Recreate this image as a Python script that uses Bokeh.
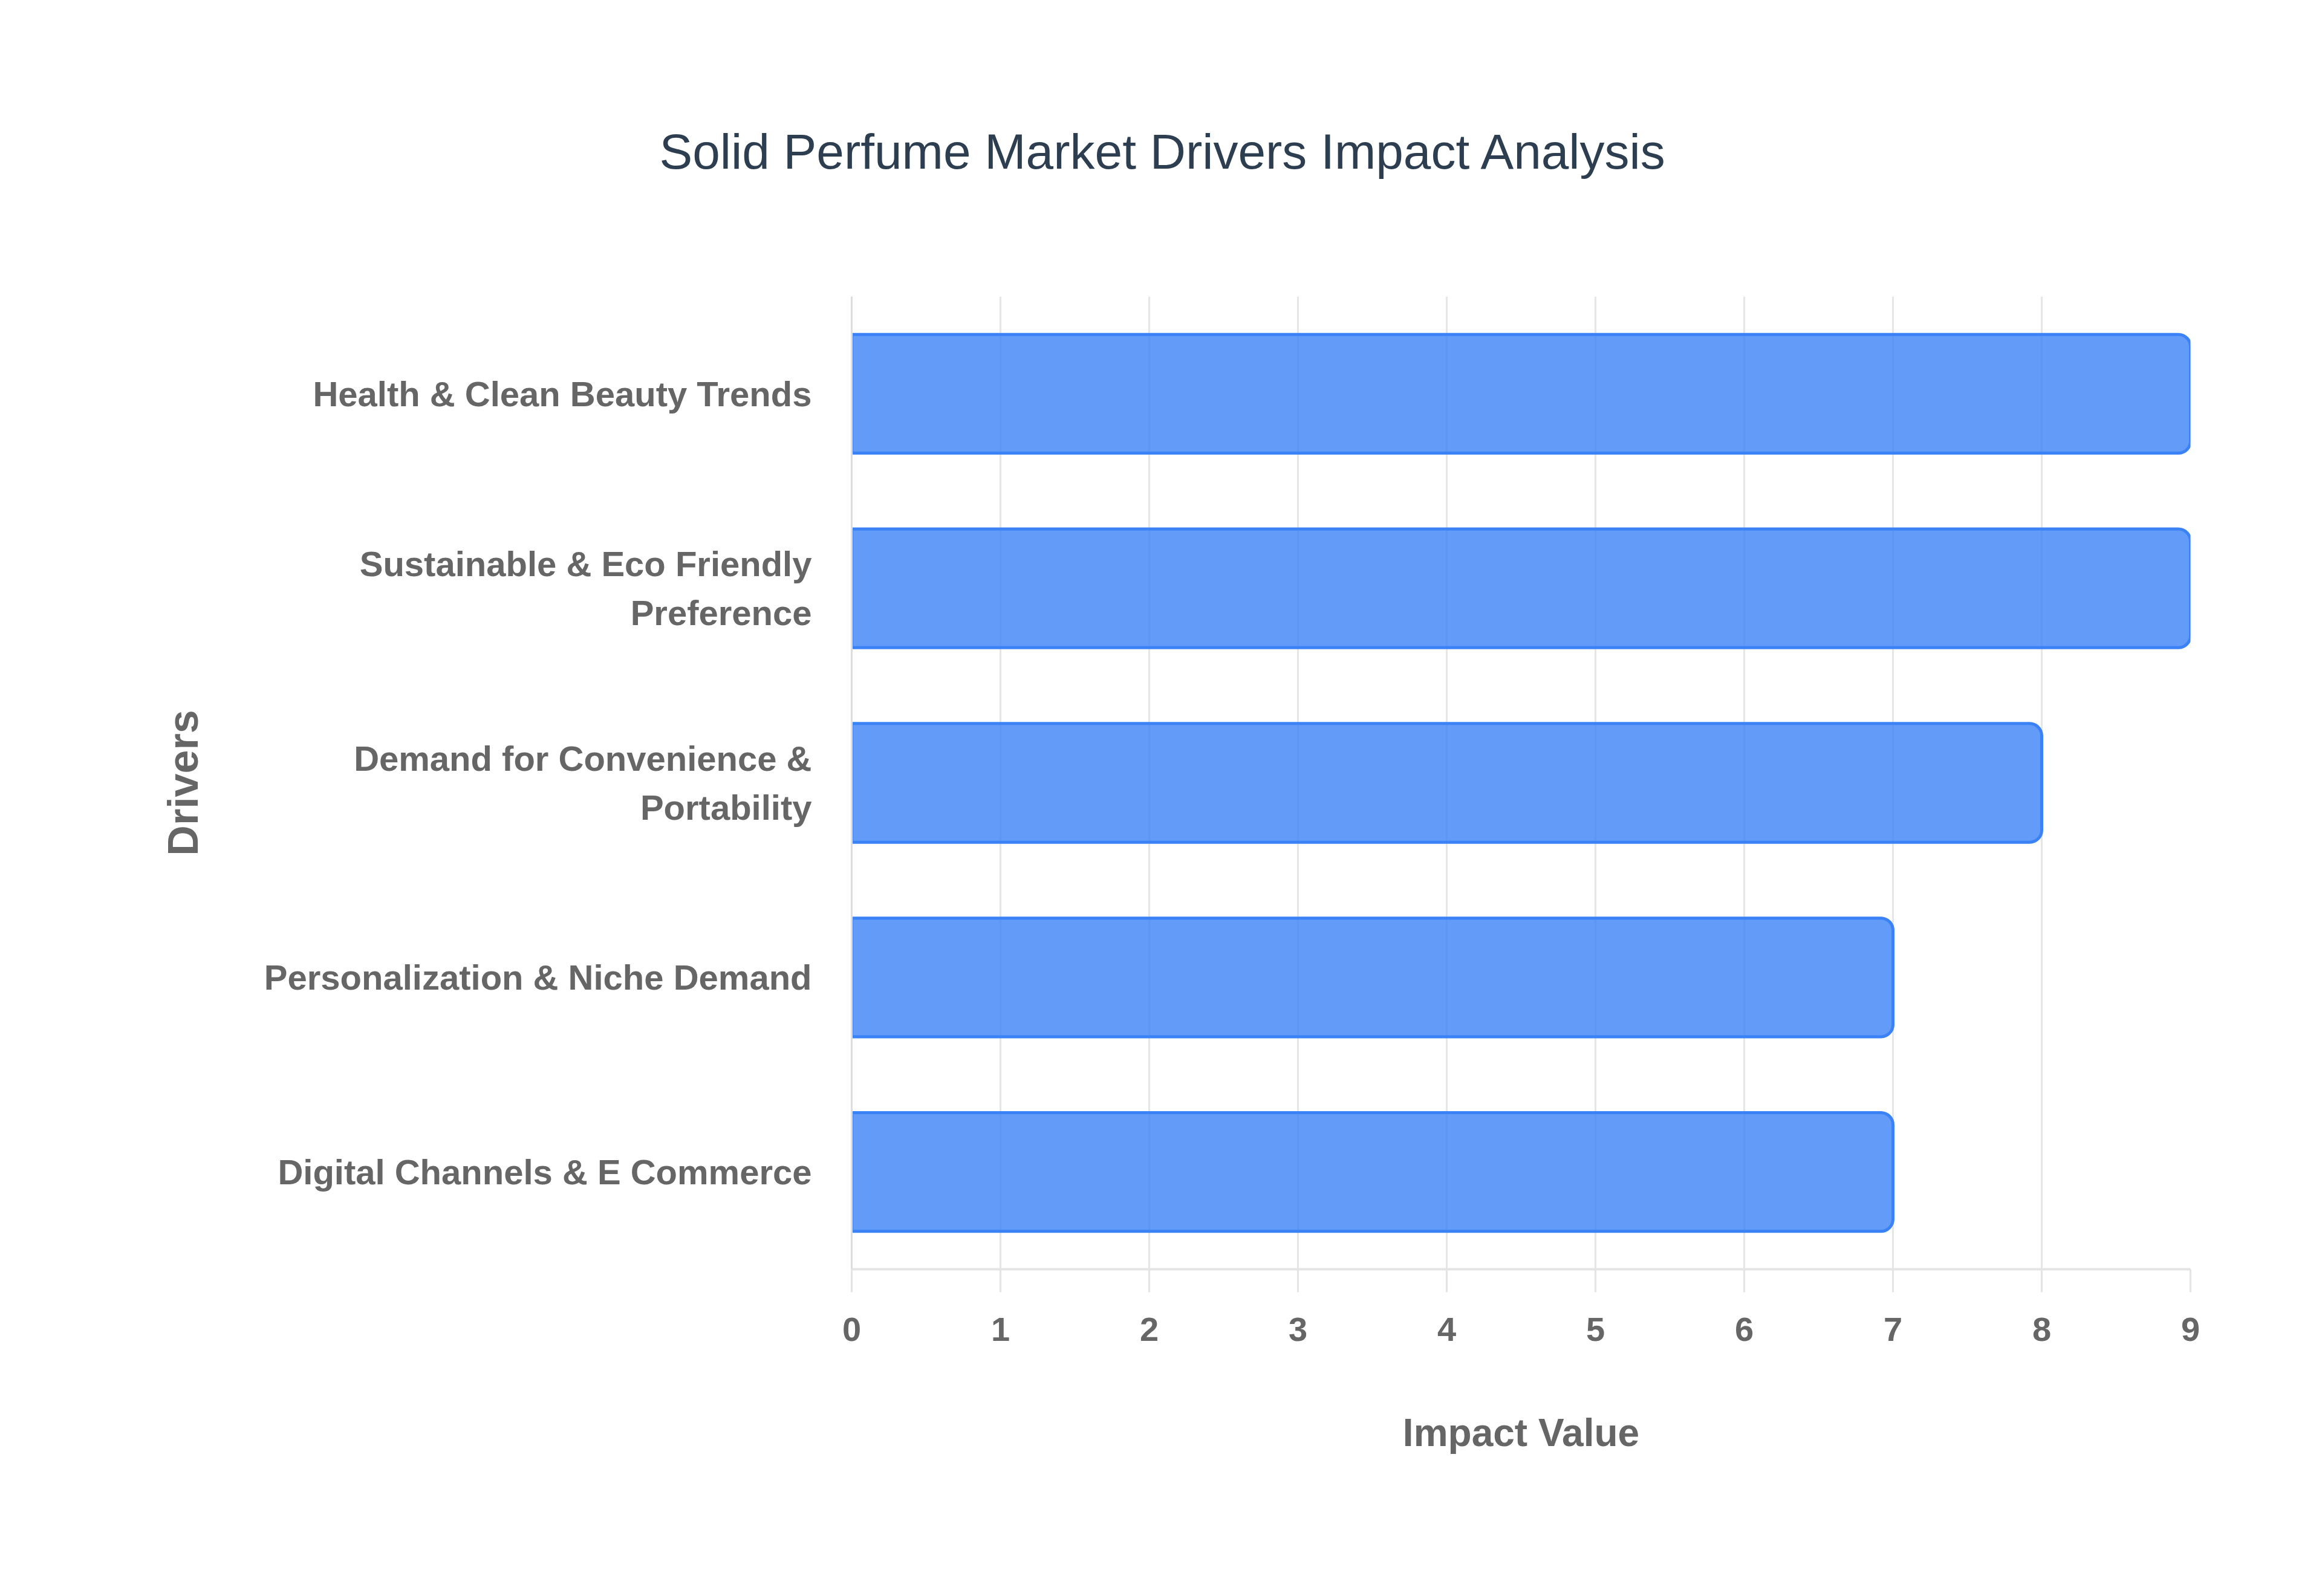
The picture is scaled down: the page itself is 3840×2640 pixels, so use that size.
from bokeh.plotting import figure
from bokeh.models import FactorRange, Range1d, FixedTicker, Title
from bokeh.embed import file_html
from bokeh.resources import INLINE

title_text = "Solid Perfume Market Drivers Impact Analysis"
drivers = [
    "Health & Clean Beauty Trends",
    "Sustainable & Eco Friendly\nPreference",
    "Demand for Convenience &\nPortability",
    "Personalization & Niche Demand",
    "Digital Channels & E Commerce",
]
impact = [9, 9, 8, 7, 7]
x_ticks = [0, 1, 2, 3, 4, 5, 6, 7, 8, 9]

W, H = 3824, 2624

p = figure(
    width=W, height=H,
    y_range=FactorRange(factors=list(reversed(drivers)), range_padding=0),
    x_range=Range1d(0, 9),
    output_backend="svg", toolbar_location=None,
    min_border_left=1408, min_border_right=202,
    min_border_top=490, min_border_bottom=525,
)
p.outline_line_color = None
p.background_fill_color = "white"
p.border_fill_color = "white"

t = Title(text=title_text, align="left", vertical_align="top",
          text_font="Liberation Sans", text_font_size="82px", text_font_style="normal",
          text_color="#2c3e50", standoff=385, offset=-318)
p.add_layout(t, "above")

p.hbar(y=drivers, right=impact, left=0, height=0.61,
       fill_color="#3b82f6", fill_alpha=0.8,
       line_color="#3b82f6", line_width=5,
       border_radius=(0, 20, 20, 0))

# x axis
xa = p.xaxis[0]
xa.ticker = FixedTicker(ticks=x_ticks)
xa.axis_label = "Impact Value"
xa.axis_label_text_font = "Liberation Sans"
xa.axis_label_text_font_style = "bold"
xa.axis_label_text_font_size = "64px"
xa.axis_label_text_color = "#666666"
xa.axis_label_standoff = 113
xa.major_label_text_font = "Liberation Sans"
xa.major_label_text_font_style = "bold"
xa.major_label_text_font_size = "56px"
xa.major_label_text_color = "#666666"
xa.major_label_standoff = 42
xa.axis_line_color = "#e4e4e4"
xa.axis_line_width = 4
xa.major_tick_line_color = "#e4e4e4"
xa.major_tick_line_width = 3
xa.major_tick_out = 38
xa.major_tick_in = 0
xa.minor_tick_line_color = None

# y axis
ya = p.yaxis[0]
ya.axis_label = "Drivers"
ya.axis_label_text_font = "Liberation Sans"
ya.axis_label_text_font_style = "bold"
ya.axis_label_text_font_size = "70px"
ya.axis_label_text_color = "#666666"
ya.axis_label_standoff = 92
ya.major_label_text_font = "Liberation Sans"
ya.major_label_text_font_style = "bold"
ya.major_label_text_font_size = "58px"
ya.major_label_text_color = "#666666"
ya.major_label_text_line_height = 1.25
ya.major_label_standoff = 60
ya.axis_line_color = "#dddddd"
ya.axis_line_width = 3
ya.major_tick_line_color = None
ya.minor_tick_line_color = None

p.xgrid.grid_line_color = "#e6e6e6"
p.xgrid.grid_line_width = 3
p.xgrid.ticker = FixedTicker(ticks=x_ticks)
p.ygrid.grid_line_color = None

open("out.html", "w").write(file_html(p, INLINE))
